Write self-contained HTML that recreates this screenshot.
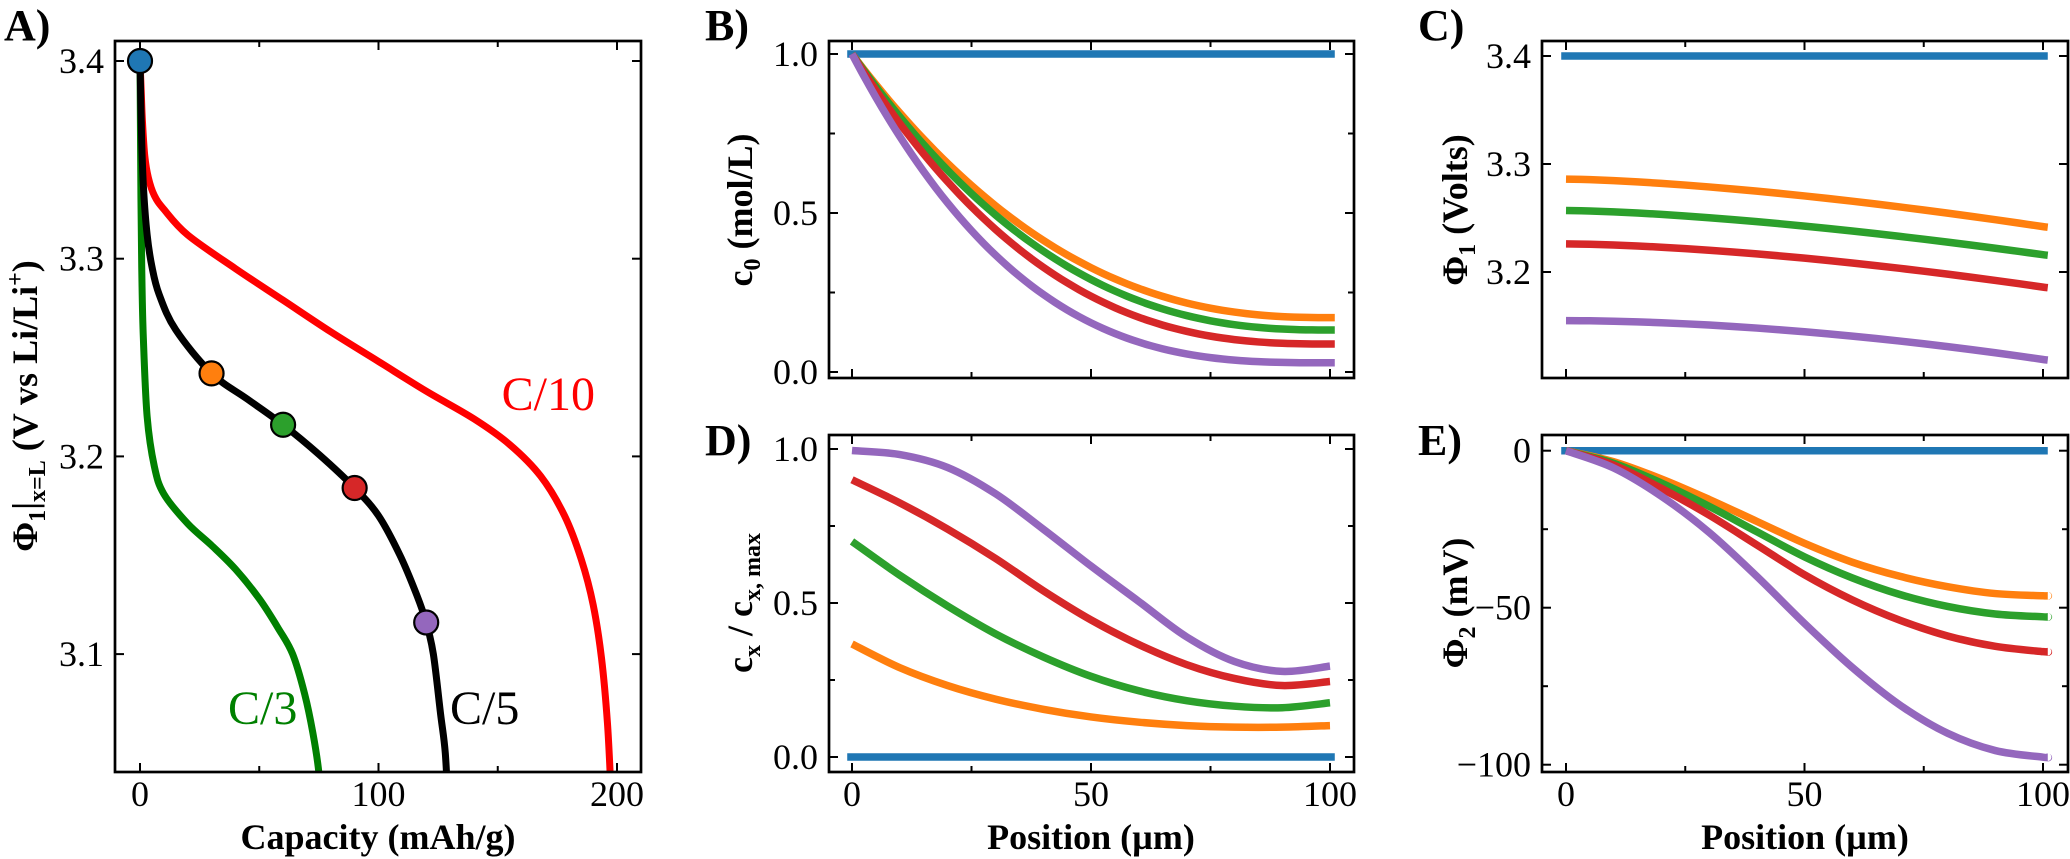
<!DOCTYPE html>
<html><head><meta charset="utf-8"><style>
html,body{margin:0;padding:0;background:#fff;}
svg{display:block;}
text{font-family:"Liberation Serif",serif;}
</style></head><body>
<svg id="s" xmlns="http://www.w3.org/2000/svg" width="2070" height="859" viewBox="0 0 2070 859">
<rect width="2070" height="859" fill="#fff"/>
<g font-weight="bold" font-size="44">
<text x="4" y="40">A)</text>
<text x="705" y="40">B)</text>
<text x="1418" y="40">C)</text>
<text x="705" y="455">D)</text>
<text x="1418" y="455">E)</text>
</g>
<g font-weight="bold" font-size="36" text-anchor="middle">
<text x="378" y="849">Capacity (mAh/g)</text>
<text x="1091" y="849">Position (µm)</text>
<text x="1805" y="849">Position (µm)</text>
<text transform="translate(37,406) rotate(-90)">Φ<tspan font-size="24" dy="8">1</tspan><tspan dy="-8">|</tspan><tspan font-size="24" dy="8">x=L</tspan><tspan dy="-8"> (V vs Li/Li</tspan><tspan font-size="24" dy="-14">+</tspan><tspan dy="14">)</tspan></text>
<text transform="translate(752,210) rotate(-90)">c<tspan font-size="24" dy="8">0</tspan><tspan dy="-8"> (mol/L)</tspan></text>
<text transform="translate(1467,210) rotate(-90)">Φ<tspan font-size="24" dy="8">1</tspan><tspan dy="-8"> (Volts)</tspan></text>
<text transform="translate(752,603) rotate(-90)">c<tspan font-size="24" dy="8">x</tspan><tspan dy="-8"> / c</tspan><tspan font-size="24" dy="8">x, max</tspan></text>
<text transform="translate(1467,603) rotate(-90)">Φ<tspan font-size="24" dy="8">2</tspan><tspan dy="-8"> (mV)</tspan></text>
</g>
<g font-size="48">
<text x="595" y="410" text-anchor="end" fill="#ff0000">C/10</text>
<text x="228" y="724" fill="#008000">C/3</text>
<text x="450" y="724" fill="#000">C/5</text>
</g>
<g id="plots"></g>
</svg>
<script>
var NS="http://www.w3.org/2000/svg";
var root=document.getElementById('plots');
function el(tag,a,txt,parent){var e=document.createElementNS(NS,tag);for(var k in a)e.setAttribute(k,a[k]);if(txt!=null)e.textContent=txt;(parent||root).appendChild(e);return e;}
function pathCR(pts){
  var d="M"+pts[0][0].toFixed(2)+","+pts[0][1].toFixed(2);
  for(var i=0;i<pts.length-1;i++){
    var p0=pts[i-1]||pts[i],p1=pts[i],p2=pts[i+1],p3=pts[i+2]||p2;
    var c1=[p1[0]+(p2[0]-p0[0])/6,p1[1]+(p2[1]-p0[1])/6];
    var c2=[p2[0]-(p3[0]-p1[0])/6,p2[1]-(p3[1]-p1[1])/6];
    d+="C"+c1[0].toFixed(2)+","+c1[1].toFixed(2)+" "+c2[0].toFixed(2)+","+c2[1].toFixed(2)+" "+p2[0].toFixed(2)+","+p2[1].toFixed(2);
  }
  return d;
}
var cid=0;
function panel(c){
  cid++;
  var clip=el('clipPath',{id:'c'+cid});
  el('rect',{x:c.L,y:c.T,width:c.R-c.L,height:c.B-c.T},null,clip);
  var g=el('g',{'clip-path':'url(#c'+cid+')'});
  c.series.forEach(function(s){
    var pts=s.d.map(function(p){return [c.xm(p[0]),c.ym(p[1])];});
    el('path',{d:pathCR(pts),fill:'none',stroke:s.c,'stroke-width':s.w||7.5,'stroke-linecap':'butt','stroke-linejoin':'round'},null,g);
  });
  (c.markers||[]).forEach(function(m){
    el('circle',{cx:c.xm(m[0]),cy:c.ym(m[1]),r:12,fill:m[2],stroke:'#000','stroke-width':2.2});
  });
  var tg=el('g',{stroke:'#000','stroke-width':2});
  function xt(v,len){var x=c.xm(v);el('line',{x1:x,x2:x,y1:c.B,y2:c.B-len},null,tg);el('line',{x1:x,x2:x,y1:c.T,y2:c.T+len},null,tg);}
  function yt(v,len){var y=c.ym(v);el('line',{x1:c.L,x2:c.L+len,y1:y,y2:y},null,tg);el('line',{x1:c.R,x2:c.R-len,y1:y,y2:y},null,tg);}
  c.xmaj.forEach(function(v){xt(v,9);});
  (c.xmin||[]).forEach(function(v){xt(v,6);});
  c.ymaj.forEach(function(v){yt(v[0],9);});
  (c.ymin||[]).forEach(function(v){yt(v,6);});
  el('rect',{x:c.L,y:c.T,width:c.R-c.L,height:c.B-c.T,fill:'none',stroke:'#000','stroke-width':2.7});
  c.ymaj.forEach(function(v){el('text',{x:c.L-11,y:c.ym(v[0])+12,'text-anchor':'end','font-size':36},v[1]);});
  if(c.xlab){c.xmaj.forEach(function(v,i){el('text',{x:c.xm(v),y:806,'text-anchor':'middle','font-size':36},c.xlab[i]);});}
}
var BL='#1f77b4',OR='#ff7f0e',GR='#2ca02c',RD='#d62728',PU='#9467bd';
function pw(e,p){var a=[];for(var i=0;i<=40;i++){var x=i*2.5;a.push([x,e+(1-e)*Math.pow(1-x/100,p)]);}a.push([101,e]);return a;}
function cser(s,e,p){var a=[];for(var i=0;i<=20;i++){var x=i*5;a.push([x,s-(s-e)*Math.pow(x/100,p)]);}a.push([101,e-0.0005]);return a;}
function ext(a){var l=a[a.length-1];a.push([101,l[1]]);return a;}
// Panel A
panel({L:115,R:641,T:41,B:772,
 xm:function(v){return 140+v*2.385;}, ym:function(v){return 61+(3.4-v)*1977;},
 xmaj:[0,100,200],xmin:[50,150],xlab:['0','100','200'],
 ymaj:[[3.1,'3.1'],[3.2,'3.2'],[3.3,'3.3'],[3.4,'3.4']],
 series:[
  {c:'#ff0000',w:7,d:[[0,3.40],[0.5,3.385],[1,3.37],[2,3.352],[3.5,3.341],[6,3.332],[10,3.325],[20,3.312],[40,3.295],[60,3.279],[80,3.263],[100,3.248],[120,3.233],[140,3.219],[155,3.206],[168,3.19],[178,3.17],[185,3.148],[190,3.125],[193.5,3.098],[196,3.065],[197.5,3.03]]},
  {c:'#008000',w:7,d:[[0,3.40],[0.4,3.33],[0.8,3.29],[1.4,3.26],[3,3.22],[6,3.195],[10,3.181],[20,3.166],[30,3.155],[40,3.143],[50,3.128],[58,3.113],[64,3.10],[69,3.08],[72.5,3.06],[75,3.04],[76,3.02]]},
  {c:'#000',w:7,d:[[0,3.40],[0.7,3.36],[1.5,3.335],[3,3.312],[5,3.296],[8,3.282],[15,3.264],[30,3.242],[45,3.229],[60,3.216],[75,3.201],[90,3.184],[100,3.17],[109,3.15],[116,3.13],[120,3.116],[123,3.10],[126,3.07],[128,3.05],[129.3,3.02]]}
 ],
 markers:[[0,3.40,BL],[30,3.242,OR],[60,3.216,GR],[90,3.184,RD],[120,3.116,PU]]
});
// Panel B
panel({L:829,R:1354,T:41,B:378,
 xm:function(v){return 852+v*4.78;}, ym:function(v){return 372-v*318;},
 xmaj:[0,50,100],xmin:[25,75],
 ymaj:[[0,'0.0'],[0.5,'0.5'],[1,'1.0']],ymin:[0.25,0.75],
 series:[
  {c:BL,d:[[-1,1],[101,1]]},
  {c:OR,d:pw(0.171,2.4)},
  {c:GR,d:pw(0.132,2.45)},
  {c:RD,d:pw(0.088,2.6)},
  {c:PU,d:pw(0.029,2.95)}
 ]});
// Panel C
panel({L:1542,R:2068,T:41,B:378,
 xm:function(v){return 1566+v*4.77;}, ym:function(v){return 56+(3.4-v)*1080;},
 xmaj:[0,50,100],xmin:[25,75],
 ymaj:[[3.2,'3.2'],[3.3,'3.3'],[3.4,'3.4']],
 series:[
  {c:BL,d:[[-1,3.4],[101,3.4]]},
  {c:OR,d:cser(3.286,3.242,1.5)},
  {c:GR,d:cser(3.257,3.216,1.5)},
  {c:RD,d:cser(3.226,3.186,1.6)},
  {c:PU,d:cser(3.155,3.119,1.8)}
 ]});
// Panel D
panel({L:829,R:1354,T:435,B:772,
 xm:function(v){return 852+v*4.78;}, ym:function(v){return 757-v*308;},
 xmaj:[0,50,100],xmin:[25,75],xlab:['0','50','100'],
 ymaj:[[0,'0.0'],[0.5,'0.5'],[1,'1.0']],ymin:[0.25,0.75],
 series:[
  {c:BL,d:[[-1,0],[101,0]]},
  {c:OR,d:[[0,0.367],[10,0.29],[20,0.232],[30,0.188],[40,0.155],[50,0.13],[60,0.113],[70,0.102],[80,0.097],[90,0.097],[100,0.102]]},
  {c:GR,d:[[0,0.70],[10,0.59],[20,0.49],[30,0.40],[40,0.325],[50,0.262],[60,0.215],[70,0.183],[80,0.165],[90,0.16],[100,0.176]]},
  {c:RD,d:[[0,0.90],[10,0.825],[20,0.74],[30,0.645],[40,0.54],[50,0.445],[60,0.365],[70,0.30],[80,0.255],[90,0.232],[100,0.245]]},
  {c:PU,d:[[0,0.995],[10,0.982],[20,0.94],[30,0.855],[40,0.74],[50,0.62],[60,0.505],[70,0.39],[80,0.31],[90,0.278],[100,0.295]]}
 ]});
// Panel E
panel({L:1542,R:2068,T:435,B:772,
 xm:function(v){return 1566+v*4.77;}, ym:function(v){return 450.7-v*3.14;},
 xmaj:[0,50,100],xmin:[25,75],xlab:['0','50','100'],
 ymaj:[[-100,'\u2212100'],[-50,'\u221250'],[0,'0']],ymin:[-25,-75],
 series:[
  {c:BL,d:[[-1,0],[101,0]]},
  {c:OR,d:ext([[0,0],[10,-3.5],[20,-9],[30,-15.5],[40,-22.5],[50,-29.5],[60,-35.5],[70,-40],[80,-43.3],[90,-45.5],[100,-46.2]])},
  {c:GR,d:ext([[0,0],[10,-4],[20,-10.3],[30,-17.7],[40,-25.8],[50,-33.8],[60,-40.5],[70,-45.8],[80,-49.6],[90,-52],[100,-52.9]])},
  {c:RD,d:ext([[0,0],[10,-4.6],[20,-12],[30,-20.5],[40,-30],[50,-39.5],[60,-47.5],[70,-54],[80,-59],[90,-62.3],[100,-64]])},
  {c:PU,d:ext([[0,0],[10,-5.5],[20,-14.5],[30,-26],[40,-40],[50,-55],[60,-69],[70,-81],[80,-90],[90,-95.5],[100,-97.6]])}
 ]});
</script>
</body></html>
